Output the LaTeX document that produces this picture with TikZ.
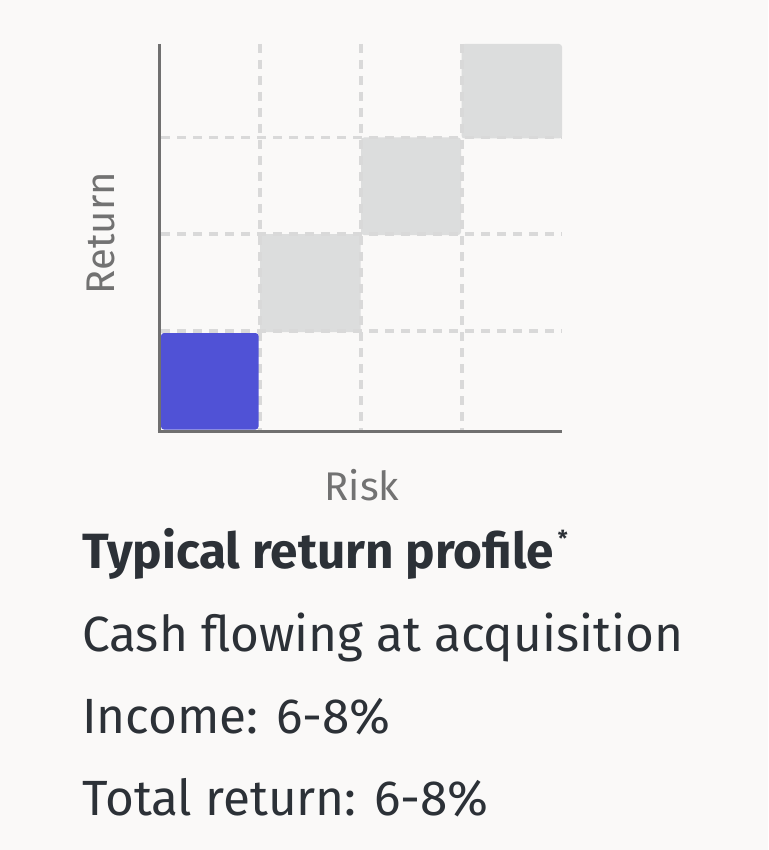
\documentclass[tikz,border=0pt]{standalone}
\usepackage{fontspec}
\setmainfont{Fira Sans}
\definecolor{bg}{HTML}{FAF9F8}
\definecolor{axisc}{HTML}{707070}
\definecolor{gridc}{HTML}{D9D9D9}
\definecolor{cellgray}{HTML}{DCDDDD}
\definecolor{cellblue}{HTML}{5052D6}
\definecolor{labelc}{HTML}{727272}
\definecolor{textc}{HTML}{2C3137}
\begin{document}
\begin{tikzpicture}[x=1pt,y=-1pt,
  gridline/.style={draw=gridc,line width=3.5pt,dash pattern=on 9pt off 7pt},
  axisline/.style={draw=axisc,line width=3pt},
  cell/.style={fill=cellgray,rounded corners=3pt},
  activecell/.style={fill=cellblue,rounded corners=3pt},
  axislabel/.style={inner sep=0pt,text=labelc,font=\fontsize{40}{48}\selectfont},
  bodytext/.style={inner sep=0pt,anchor=base west,text=textc,font=\fontsize{49.5}{58}\selectfont}]
\useasboundingbox[fill=bg] (0,0) rectangle (768,850);
% gray cells
\fill[cell] (260,234) rectangle (360.5,332);
\fill[cell] (361,137.5) rectangle (461,235);
\fill[cell] (461.5,44) rectangle (562,138.5);
% grid
\foreach \yy in {137.5,234,331}{\draw[gridline] (161,\yy) -- (562,\yy);}
\foreach \xx in {260,361,462}{\draw[gridline] (\xx,44) -- (\xx,430);}
% active cell
\fill[activecell] (161,333) rectangle (258.5,429.5);
% axes
\coordinate (ytop) at (159,44);
\coordinate (origin) at (159,431);
\coordinate (xend) at (562,431);
\draw[axisline] (ytop) -- (159,432.5);
\draw[axisline] (157.5,431) -- (xend);
% labels
\node[axislabel,anchor=base] (risk) at (362,500) {Risk};
\node[axislabel,anchor=base,rotate=90] (ret) at (114,233) {Return};
\node[bodytext] (title) at (82,568) {\bfseries Typical return profile\hspace{4pt}\raisebox{22pt}{\fontsize{22}{22}\selectfont *}};
\node[bodytext] (l1) at (82,651) {Cash flowing at acquisition};
\node[bodytext] (l2) at (82,733) {Income: 6-8\%};
\node[bodytext] (l3) at (82,815) {Total return: 6-8\%};
\end{tikzpicture}
\end{document}
